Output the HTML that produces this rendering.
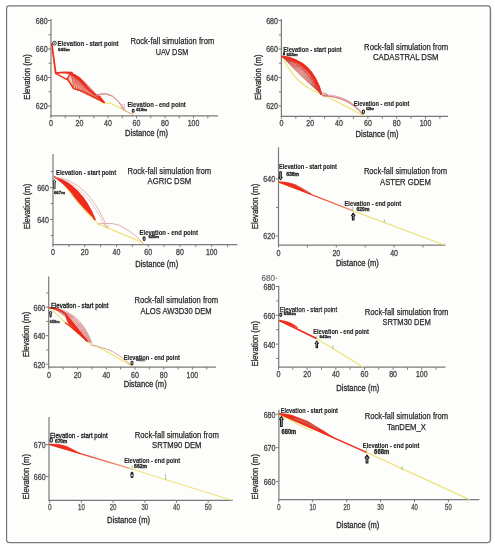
<!DOCTYPE html><html><head><meta charset="utf-8"><style>html,body{margin:0;padding:0;background:#fff;width:495px;height:550px;overflow:hidden}#w{position:absolute;left:0;top:0;width:495px;height:550px;will-change:transform;filter:blur(0.35px)}</style></head><body><div id="w"><svg width="495" height="550" viewBox="0 0 495 550" style="position:absolute;left:0;top:0" font-family='"Liberation Sans", sans-serif'>
<rect x="0" y="0" width="495" height="550" fill="#ffffff"/>
<rect x="6.6" y="5.9" width="483.7" height="536.6" rx="2.5" ry="2.5" fill="#fdfdfb" stroke="#747474" stroke-width="1.15"/>
<line x1="490.6" y1="9" x2="490.6" y2="540" stroke="#777" stroke-width="1.1"/>
<line x1="9" y1="542.7" x2="488" y2="542.7" stroke="#777" stroke-width="1.1"/>
<line x1="51.0" y1="19.0" x2="51.0" y2="116.4" stroke="#7a7a7a" stroke-width="1.2"/>
<line x1="50.4" y1="115.8" x2="218.0" y2="115.8" stroke="#7a7a7a" stroke-width="1.25"/>
<line x1="48.0" y1="20.5" x2="51.0" y2="20.5" stroke="#7a7a7a" stroke-width="1.0"/>
<text x="47.6" y="23.9" font-size="9.0" font-weight="normal" fill="#4a4a4a" text-anchor="end" textLength="11.8" lengthAdjust="spacingAndGlyphs" stroke="#4a4a4a" stroke-width="0.35" >680</text>
<line x1="48.5" y1="34.8" x2="51.0" y2="34.8" stroke="#7a7a7a" stroke-width="1.0"/>
<line x1="48.0" y1="49.0" x2="51.0" y2="49.0" stroke="#7a7a7a" stroke-width="1.0"/>
<text x="47.6" y="52.4" font-size="9.0" font-weight="normal" fill="#4a4a4a" text-anchor="end" textLength="11.8" lengthAdjust="spacingAndGlyphs" stroke="#4a4a4a" stroke-width="0.35" >660</text>
<line x1="48.5" y1="63.2" x2="51.0" y2="63.2" stroke="#7a7a7a" stroke-width="1.0"/>
<line x1="48.0" y1="77.5" x2="51.0" y2="77.5" stroke="#7a7a7a" stroke-width="1.0"/>
<text x="47.6" y="80.9" font-size="9.0" font-weight="normal" fill="#4a4a4a" text-anchor="end" textLength="11.8" lengthAdjust="spacingAndGlyphs" stroke="#4a4a4a" stroke-width="0.35" >640</text>
<line x1="48.5" y1="91.8" x2="51.0" y2="91.8" stroke="#7a7a7a" stroke-width="1.0"/>
<line x1="48.0" y1="106.0" x2="51.0" y2="106.0" stroke="#7a7a7a" stroke-width="1.0"/>
<text x="47.6" y="109.4" font-size="9.0" font-weight="normal" fill="#4a4a4a" text-anchor="end" textLength="11.8" lengthAdjust="spacingAndGlyphs" stroke="#4a4a4a" stroke-width="0.35" >620</text>
<line x1="51.0" y1="115.8" x2="51.0" y2="118.3" stroke="#7a7a7a" stroke-width="1.0"/>
<text x="51.0" y="126.0" font-size="9.0" font-weight="normal" fill="#4a4a4a" text-anchor="middle" textLength="4.0" lengthAdjust="spacingAndGlyphs" stroke="#4a4a4a" stroke-width="0.35" >0</text>
<line x1="65.2" y1="115.8" x2="65.2" y2="118.3" stroke="#7a7a7a" stroke-width="1.0"/>
<line x1="79.5" y1="115.8" x2="79.5" y2="118.3" stroke="#7a7a7a" stroke-width="1.0"/>
<text x="79.5" y="126.0" font-size="9.0" font-weight="normal" fill="#4a4a4a" text-anchor="middle" textLength="7.8" lengthAdjust="spacingAndGlyphs" stroke="#4a4a4a" stroke-width="0.35" >20</text>
<line x1="93.8" y1="115.8" x2="93.8" y2="118.3" stroke="#7a7a7a" stroke-width="1.0"/>
<line x1="108.0" y1="115.8" x2="108.0" y2="118.3" stroke="#7a7a7a" stroke-width="1.0"/>
<text x="108.0" y="126.0" font-size="9.0" font-weight="normal" fill="#4a4a4a" text-anchor="middle" textLength="7.8" lengthAdjust="spacingAndGlyphs" stroke="#4a4a4a" stroke-width="0.35" >40</text>
<line x1="122.2" y1="115.8" x2="122.2" y2="118.3" stroke="#7a7a7a" stroke-width="1.0"/>
<line x1="136.5" y1="115.8" x2="136.5" y2="118.3" stroke="#7a7a7a" stroke-width="1.0"/>
<text x="136.5" y="126.0" font-size="9.0" font-weight="normal" fill="#4a4a4a" text-anchor="middle" textLength="7.8" lengthAdjust="spacingAndGlyphs" stroke="#4a4a4a" stroke-width="0.35" >60</text>
<line x1="150.8" y1="115.8" x2="150.8" y2="118.3" stroke="#7a7a7a" stroke-width="1.0"/>
<line x1="165.0" y1="115.8" x2="165.0" y2="118.3" stroke="#7a7a7a" stroke-width="1.0"/>
<text x="165.0" y="126.0" font-size="9.0" font-weight="normal" fill="#4a4a4a" text-anchor="middle" textLength="7.8" lengthAdjust="spacingAndGlyphs" stroke="#4a4a4a" stroke-width="0.35" >80</text>
<line x1="179.2" y1="115.8" x2="179.2" y2="118.3" stroke="#7a7a7a" stroke-width="1.0"/>
<line x1="193.5" y1="115.8" x2="193.5" y2="118.3" stroke="#7a7a7a" stroke-width="1.0"/>
<text x="193.5" y="126.0" font-size="9.0" font-weight="normal" fill="#4a4a4a" text-anchor="middle" textLength="11.6" lengthAdjust="spacingAndGlyphs" stroke="#4a4a4a" stroke-width="0.35" >100</text>
<line x1="207.8" y1="115.8" x2="207.8" y2="118.3" stroke="#7a7a7a" stroke-width="1.0"/>
<text x="146.5" y="135.7" font-size="9" font-weight="normal" fill="#2a2a2a" text-anchor="middle" textLength="43.0" lengthAdjust="spacingAndGlyphs" stroke="#2a2a2a" stroke-width="0.3" >Distance (m)</text>
<text transform="translate(29.9,77.0) rotate(-90)" x="0" y="0" font-size="9" fill="#2a2a2a" stroke="#2a2a2a" stroke-width="0.3" text-anchor="middle" textLength="45.5" lengthAdjust="spacingAndGlyphs">Elevation (m)</text>
<text x="130.4" y="44.4" font-size="9.9" font-weight="normal" fill="#262626" text-anchor="start" textLength="83.9" lengthAdjust="spacingAndGlyphs" stroke="#262626" stroke-width="0.25" >Rock-fall simulation from</text>
<text x="155.7" y="55.0" font-size="9.9" font-weight="normal" fill="#262626" text-anchor="start" textLength="32.6" lengthAdjust="spacingAndGlyphs" stroke="#262626" stroke-width="0.25" >UAV DSM</text>
<line x1="281.4" y1="19.0" x2="281.4" y2="116.9" stroke="#7a7a7a" stroke-width="1.2"/>
<line x1="280.8" y1="116.3" x2="448.0" y2="116.3" stroke="#7a7a7a" stroke-width="1.25"/>
<line x1="278.4" y1="20.5" x2="281.4" y2="20.5" stroke="#7a7a7a" stroke-width="1.0"/>
<text x="278.0" y="23.9" font-size="9.0" font-weight="normal" fill="#4a4a4a" text-anchor="end" textLength="11.8" lengthAdjust="spacingAndGlyphs" stroke="#4a4a4a" stroke-width="0.35" >680</text>
<line x1="278.9" y1="34.8" x2="281.4" y2="34.8" stroke="#7a7a7a" stroke-width="1.0"/>
<line x1="278.4" y1="49.0" x2="281.4" y2="49.0" stroke="#7a7a7a" stroke-width="1.0"/>
<text x="278.0" y="52.4" font-size="9.0" font-weight="normal" fill="#4a4a4a" text-anchor="end" textLength="11.8" lengthAdjust="spacingAndGlyphs" stroke="#4a4a4a" stroke-width="0.35" >660</text>
<line x1="278.9" y1="63.2" x2="281.4" y2="63.2" stroke="#7a7a7a" stroke-width="1.0"/>
<line x1="278.4" y1="77.5" x2="281.4" y2="77.5" stroke="#7a7a7a" stroke-width="1.0"/>
<text x="278.0" y="80.9" font-size="9.0" font-weight="normal" fill="#4a4a4a" text-anchor="end" textLength="11.8" lengthAdjust="spacingAndGlyphs" stroke="#4a4a4a" stroke-width="0.35" >640</text>
<line x1="278.9" y1="91.8" x2="281.4" y2="91.8" stroke="#7a7a7a" stroke-width="1.0"/>
<line x1="278.4" y1="106.0" x2="281.4" y2="106.0" stroke="#7a7a7a" stroke-width="1.0"/>
<text x="278.0" y="109.4" font-size="9.0" font-weight="normal" fill="#4a4a4a" text-anchor="end" textLength="11.8" lengthAdjust="spacingAndGlyphs" stroke="#4a4a4a" stroke-width="0.35" >620</text>
<line x1="281.4" y1="116.3" x2="281.4" y2="118.8" stroke="#7a7a7a" stroke-width="1.0"/>
<text x="281.4" y="126.2" font-size="9.0" font-weight="normal" fill="#4a4a4a" text-anchor="middle" textLength="4.0" lengthAdjust="spacingAndGlyphs" stroke="#4a4a4a" stroke-width="0.35" >0</text>
<line x1="295.8" y1="116.3" x2="295.8" y2="118.8" stroke="#7a7a7a" stroke-width="1.0"/>
<line x1="310.2" y1="116.3" x2="310.2" y2="118.8" stroke="#7a7a7a" stroke-width="1.0"/>
<text x="310.2" y="126.2" font-size="9.0" font-weight="normal" fill="#4a4a4a" text-anchor="middle" textLength="7.8" lengthAdjust="spacingAndGlyphs" stroke="#4a4a4a" stroke-width="0.35" >20</text>
<line x1="324.6" y1="116.3" x2="324.6" y2="118.8" stroke="#7a7a7a" stroke-width="1.0"/>
<line x1="339.0" y1="116.3" x2="339.0" y2="118.8" stroke="#7a7a7a" stroke-width="1.0"/>
<text x="339.0" y="126.2" font-size="9.0" font-weight="normal" fill="#4a4a4a" text-anchor="middle" textLength="7.8" lengthAdjust="spacingAndGlyphs" stroke="#4a4a4a" stroke-width="0.35" >40</text>
<line x1="353.4" y1="116.3" x2="353.4" y2="118.8" stroke="#7a7a7a" stroke-width="1.0"/>
<line x1="367.9" y1="116.3" x2="367.9" y2="118.8" stroke="#7a7a7a" stroke-width="1.0"/>
<text x="367.9" y="126.2" font-size="9.0" font-weight="normal" fill="#4a4a4a" text-anchor="middle" textLength="7.8" lengthAdjust="spacingAndGlyphs" stroke="#4a4a4a" stroke-width="0.35" >60</text>
<line x1="382.3" y1="116.3" x2="382.3" y2="118.8" stroke="#7a7a7a" stroke-width="1.0"/>
<line x1="396.7" y1="116.3" x2="396.7" y2="118.8" stroke="#7a7a7a" stroke-width="1.0"/>
<text x="396.7" y="126.2" font-size="9.0" font-weight="normal" fill="#4a4a4a" text-anchor="middle" textLength="7.8" lengthAdjust="spacingAndGlyphs" stroke="#4a4a4a" stroke-width="0.35" >80</text>
<line x1="411.1" y1="116.3" x2="411.1" y2="118.8" stroke="#7a7a7a" stroke-width="1.0"/>
<line x1="425.5" y1="116.3" x2="425.5" y2="118.8" stroke="#7a7a7a" stroke-width="1.0"/>
<text x="425.5" y="126.2" font-size="9.0" font-weight="normal" fill="#4a4a4a" text-anchor="middle" textLength="11.6" lengthAdjust="spacingAndGlyphs" stroke="#4a4a4a" stroke-width="0.35" >100</text>
<line x1="439.9" y1="116.3" x2="439.9" y2="118.8" stroke="#7a7a7a" stroke-width="1.0"/>
<text x="377.0" y="137.0" font-size="9" font-weight="normal" fill="#2a2a2a" text-anchor="middle" textLength="43.0" lengthAdjust="spacingAndGlyphs" stroke="#2a2a2a" stroke-width="0.3" >Distance (m)</text>
<text transform="translate(261.3,77.2) rotate(-90)" x="0" y="0" font-size="9" fill="#2a2a2a" stroke="#2a2a2a" stroke-width="0.3" text-anchor="middle" textLength="45.5" lengthAdjust="spacingAndGlyphs">Elevation (m)</text>
<text x="364.1" y="49.8" font-size="9.9" font-weight="normal" fill="#262626" text-anchor="start" textLength="84.1" lengthAdjust="spacingAndGlyphs" stroke="#262626" stroke-width="0.25" >Rock-fall simulation from</text>
<text x="373.0" y="59.5" font-size="9.9" font-weight="normal" fill="#262626" text-anchor="start" textLength="65.5" lengthAdjust="spacingAndGlyphs" stroke="#262626" stroke-width="0.25" >CADASTRAL DSM</text>
<line x1="53.0" y1="154.0" x2="53.0" y2="245.2" stroke="#7a7a7a" stroke-width="1.2"/>
<line x1="52.4" y1="244.6" x2="237.3" y2="244.6" stroke="#7a7a7a" stroke-width="1.25"/>
<line x1="50.5" y1="171.6" x2="53.0" y2="171.6" stroke="#7a7a7a" stroke-width="1.0"/>
<line x1="50.0" y1="187.6" x2="53.0" y2="187.6" stroke="#7a7a7a" stroke-width="1.0"/>
<text x="49.0" y="191.0" font-size="9.0" font-weight="normal" fill="#4a4a4a" text-anchor="end" textLength="11.8" lengthAdjust="spacingAndGlyphs" stroke="#4a4a4a" stroke-width="0.35" >660</text>
<line x1="50.5" y1="203.6" x2="53.0" y2="203.6" stroke="#7a7a7a" stroke-width="1.0"/>
<line x1="50.0" y1="219.6" x2="53.0" y2="219.6" stroke="#7a7a7a" stroke-width="1.0"/>
<text x="49.0" y="223.0" font-size="9.0" font-weight="normal" fill="#4a4a4a" text-anchor="end" textLength="11.8" lengthAdjust="spacingAndGlyphs" stroke="#4a4a4a" stroke-width="0.35" >640</text>
<line x1="50.5" y1="235.6" x2="53.0" y2="235.6" stroke="#7a7a7a" stroke-width="1.0"/>
<line x1="53.0" y1="244.6" x2="53.0" y2="247.1" stroke="#7a7a7a" stroke-width="1.0"/>
<text x="53.0" y="254.8" font-size="9.0" font-weight="normal" fill="#4a4a4a" text-anchor="middle" textLength="4.0" lengthAdjust="spacingAndGlyphs" stroke="#4a4a4a" stroke-width="0.35" >0</text>
<line x1="68.9" y1="244.6" x2="68.9" y2="247.1" stroke="#7a7a7a" stroke-width="1.0"/>
<line x1="84.7" y1="244.6" x2="84.7" y2="247.1" stroke="#7a7a7a" stroke-width="1.0"/>
<text x="84.7" y="254.8" font-size="9.0" font-weight="normal" fill="#4a4a4a" text-anchor="middle" textLength="7.8" lengthAdjust="spacingAndGlyphs" stroke="#4a4a4a" stroke-width="0.35" >20</text>
<line x1="100.6" y1="244.6" x2="100.6" y2="247.1" stroke="#7a7a7a" stroke-width="1.0"/>
<line x1="116.5" y1="244.6" x2="116.5" y2="247.1" stroke="#7a7a7a" stroke-width="1.0"/>
<text x="116.5" y="254.8" font-size="9.0" font-weight="normal" fill="#4a4a4a" text-anchor="middle" textLength="7.8" lengthAdjust="spacingAndGlyphs" stroke="#4a4a4a" stroke-width="0.35" >40</text>
<line x1="132.3" y1="244.6" x2="132.3" y2="247.1" stroke="#7a7a7a" stroke-width="1.0"/>
<line x1="148.2" y1="244.6" x2="148.2" y2="247.1" stroke="#7a7a7a" stroke-width="1.0"/>
<text x="148.2" y="254.8" font-size="9.0" font-weight="normal" fill="#4a4a4a" text-anchor="middle" textLength="7.8" lengthAdjust="spacingAndGlyphs" stroke="#4a4a4a" stroke-width="0.35" >60</text>
<line x1="164.1" y1="244.6" x2="164.1" y2="247.1" stroke="#7a7a7a" stroke-width="1.0"/>
<line x1="180.0" y1="244.6" x2="180.0" y2="247.1" stroke="#7a7a7a" stroke-width="1.0"/>
<text x="180.0" y="254.8" font-size="9.0" font-weight="normal" fill="#4a4a4a" text-anchor="middle" textLength="7.8" lengthAdjust="spacingAndGlyphs" stroke="#4a4a4a" stroke-width="0.35" >80</text>
<line x1="195.8" y1="244.6" x2="195.8" y2="247.1" stroke="#7a7a7a" stroke-width="1.0"/>
<line x1="211.7" y1="244.6" x2="211.7" y2="247.1" stroke="#7a7a7a" stroke-width="1.0"/>
<text x="211.7" y="254.8" font-size="9.0" font-weight="normal" fill="#4a4a4a" text-anchor="middle" textLength="11.6" lengthAdjust="spacingAndGlyphs" stroke="#4a4a4a" stroke-width="0.35" >100</text>
<line x1="227.6" y1="244.6" x2="227.6" y2="247.1" stroke="#7a7a7a" stroke-width="1.0"/>
<text x="156.7" y="267.0" font-size="9" font-weight="normal" fill="#2a2a2a" text-anchor="middle" textLength="43.0" lengthAdjust="spacingAndGlyphs" stroke="#2a2a2a" stroke-width="0.3" >Distance (m)</text>
<text transform="translate(30.3,206.5) rotate(-90)" x="0" y="0" font-size="9" fill="#2a2a2a" stroke="#2a2a2a" stroke-width="0.3" text-anchor="middle" textLength="45.5" lengthAdjust="spacingAndGlyphs">Elevation (m)</text>
<text x="127.5" y="173.9" font-size="9.9" font-weight="normal" fill="#262626" text-anchor="start" textLength="83.7" lengthAdjust="spacingAndGlyphs" stroke="#262626" stroke-width="0.25" >Rock-fall simulation from</text>
<text x="147.6" y="183.8" font-size="9.9" font-weight="normal" fill="#262626" text-anchor="start" textLength="43.6" lengthAdjust="spacingAndGlyphs" stroke="#262626" stroke-width="0.25" >AGRIC DSM</text>
<line x1="278.5" y1="147.4" x2="278.5" y2="245.6" stroke="#7a7a7a" stroke-width="1.2"/>
<line x1="277.9" y1="245.0" x2="445.4" y2="245.0" stroke="#7a7a7a" stroke-width="1.25"/>
<line x1="275.5" y1="178.9" x2="278.5" y2="178.9" stroke="#7a7a7a" stroke-width="1.0"/>
<text x="275.1" y="182.3" font-size="9.0" font-weight="normal" fill="#4a4a4a" text-anchor="end" textLength="11.8" lengthAdjust="spacingAndGlyphs" stroke="#4a4a4a" stroke-width="0.35" >640</text>
<line x1="276.0" y1="207.4" x2="278.5" y2="207.4" stroke="#7a7a7a" stroke-width="1.0"/>
<line x1="275.5" y1="236.0" x2="278.5" y2="236.0" stroke="#7a7a7a" stroke-width="1.0"/>
<text x="275.1" y="239.4" font-size="9.0" font-weight="normal" fill="#4a4a4a" text-anchor="end" textLength="11.8" lengthAdjust="spacingAndGlyphs" stroke="#4a4a4a" stroke-width="0.35" >620</text>
<line x1="278.5" y1="245.0" x2="278.5" y2="247.5" stroke="#7a7a7a" stroke-width="1.0"/>
<text x="278.5" y="255.5" font-size="9.0" font-weight="normal" fill="#4a4a4a" text-anchor="middle" textLength="4.0" lengthAdjust="spacingAndGlyphs" stroke="#4a4a4a" stroke-width="0.35" >0</text>
<line x1="307.4" y1="245.0" x2="307.4" y2="247.5" stroke="#7a7a7a" stroke-width="1.0"/>
<line x1="336.3" y1="245.0" x2="336.3" y2="247.5" stroke="#7a7a7a" stroke-width="1.0"/>
<text x="336.3" y="255.5" font-size="9.0" font-weight="normal" fill="#4a4a4a" text-anchor="middle" textLength="7.8" lengthAdjust="spacingAndGlyphs" stroke="#4a4a4a" stroke-width="0.35" >20</text>
<line x1="365.2" y1="245.0" x2="365.2" y2="247.5" stroke="#7a7a7a" stroke-width="1.0"/>
<line x1="394.1" y1="245.0" x2="394.1" y2="247.5" stroke="#7a7a7a" stroke-width="1.0"/>
<text x="394.1" y="255.5" font-size="9.0" font-weight="normal" fill="#4a4a4a" text-anchor="middle" textLength="7.8" lengthAdjust="spacingAndGlyphs" stroke="#4a4a4a" stroke-width="0.35" >40</text>
<line x1="423.0" y1="245.0" x2="423.0" y2="247.5" stroke="#7a7a7a" stroke-width="1.0"/>
<text x="357.4" y="265.6" font-size="9" font-weight="normal" fill="#2a2a2a" text-anchor="middle" textLength="43.0" lengthAdjust="spacingAndGlyphs" stroke="#2a2a2a" stroke-width="0.3" >Distance (m)</text>
<text transform="translate(257.8,206.4) rotate(-90)" x="0" y="0" font-size="9" fill="#2a2a2a" stroke="#2a2a2a" stroke-width="0.3" text-anchor="middle" textLength="45.5" lengthAdjust="spacingAndGlyphs">Elevation (m)</text>
<text x="363.9" y="174.2" font-size="9.9" font-weight="normal" fill="#262626" text-anchor="start" textLength="83.1" lengthAdjust="spacingAndGlyphs" stroke="#262626" stroke-width="0.25" >Rock-fall simulation from</text>
<text x="380.1" y="184.8" font-size="9.9" font-weight="normal" fill="#262626" text-anchor="start" textLength="50.7" lengthAdjust="spacingAndGlyphs" stroke="#262626" stroke-width="0.25" >ASTER GDEM</text>
<line x1="48.7" y1="276.5" x2="48.7" y2="367.6" stroke="#7a7a7a" stroke-width="1.2"/>
<line x1="48.1" y1="367.0" x2="216.0" y2="367.0" stroke="#7a7a7a" stroke-width="1.25"/>
<line x1="46.2" y1="292.9" x2="48.7" y2="292.9" stroke="#7a7a7a" stroke-width="1.0"/>
<line x1="45.7" y1="307.2" x2="48.7" y2="307.2" stroke="#7a7a7a" stroke-width="1.0"/>
<text x="45.3" y="310.6" font-size="9.0" font-weight="normal" fill="#4a4a4a" text-anchor="end" textLength="11.8" lengthAdjust="spacingAndGlyphs" stroke="#4a4a4a" stroke-width="0.35" >660</text>
<line x1="46.2" y1="321.4" x2="48.7" y2="321.4" stroke="#7a7a7a" stroke-width="1.0"/>
<line x1="45.7" y1="335.7" x2="48.7" y2="335.7" stroke="#7a7a7a" stroke-width="1.0"/>
<text x="45.3" y="339.1" font-size="9.0" font-weight="normal" fill="#4a4a4a" text-anchor="end" textLength="11.8" lengthAdjust="spacingAndGlyphs" stroke="#4a4a4a" stroke-width="0.35" >640</text>
<line x1="46.2" y1="349.9" x2="48.7" y2="349.9" stroke="#7a7a7a" stroke-width="1.0"/>
<line x1="45.7" y1="364.2" x2="48.7" y2="364.2" stroke="#7a7a7a" stroke-width="1.0"/>
<text x="45.3" y="367.6" font-size="9.0" font-weight="normal" fill="#4a4a4a" text-anchor="end" textLength="11.8" lengthAdjust="spacingAndGlyphs" stroke="#4a4a4a" stroke-width="0.35" >620</text>
<line x1="48.9" y1="367.0" x2="48.9" y2="369.5" stroke="#7a7a7a" stroke-width="1.0"/>
<text x="48.9" y="377.8" font-size="9.0" font-weight="normal" fill="#4a4a4a" text-anchor="middle" textLength="4.0" lengthAdjust="spacingAndGlyphs" stroke="#4a4a4a" stroke-width="0.35" >0</text>
<line x1="63.2" y1="367.0" x2="63.2" y2="369.5" stroke="#7a7a7a" stroke-width="1.0"/>
<line x1="77.6" y1="367.0" x2="77.6" y2="369.5" stroke="#7a7a7a" stroke-width="1.0"/>
<text x="77.6" y="377.8" font-size="9.0" font-weight="normal" fill="#4a4a4a" text-anchor="middle" textLength="7.8" lengthAdjust="spacingAndGlyphs" stroke="#4a4a4a" stroke-width="0.35" >20</text>
<line x1="92.0" y1="367.0" x2="92.0" y2="369.5" stroke="#7a7a7a" stroke-width="1.0"/>
<line x1="106.3" y1="367.0" x2="106.3" y2="369.5" stroke="#7a7a7a" stroke-width="1.0"/>
<text x="106.3" y="377.8" font-size="9.0" font-weight="normal" fill="#4a4a4a" text-anchor="middle" textLength="7.8" lengthAdjust="spacingAndGlyphs" stroke="#4a4a4a" stroke-width="0.35" >40</text>
<line x1="120.7" y1="367.0" x2="120.7" y2="369.5" stroke="#7a7a7a" stroke-width="1.0"/>
<line x1="135.0" y1="367.0" x2="135.0" y2="369.5" stroke="#7a7a7a" stroke-width="1.0"/>
<text x="135.0" y="377.8" font-size="9.0" font-weight="normal" fill="#4a4a4a" text-anchor="middle" textLength="7.8" lengthAdjust="spacingAndGlyphs" stroke="#4a4a4a" stroke-width="0.35" >60</text>
<line x1="149.3" y1="367.0" x2="149.3" y2="369.5" stroke="#7a7a7a" stroke-width="1.0"/>
<line x1="163.7" y1="367.0" x2="163.7" y2="369.5" stroke="#7a7a7a" stroke-width="1.0"/>
<text x="163.7" y="377.8" font-size="9.0" font-weight="normal" fill="#4a4a4a" text-anchor="middle" textLength="7.8" lengthAdjust="spacingAndGlyphs" stroke="#4a4a4a" stroke-width="0.35" >80</text>
<line x1="178.1" y1="367.0" x2="178.1" y2="369.5" stroke="#7a7a7a" stroke-width="1.0"/>
<line x1="192.4" y1="367.0" x2="192.4" y2="369.5" stroke="#7a7a7a" stroke-width="1.0"/>
<text x="192.4" y="377.8" font-size="9.0" font-weight="normal" fill="#4a4a4a" text-anchor="middle" textLength="11.6" lengthAdjust="spacingAndGlyphs" stroke="#4a4a4a" stroke-width="0.35" >100</text>
<line x1="206.8" y1="367.0" x2="206.8" y2="369.5" stroke="#7a7a7a" stroke-width="1.0"/>
<text x="145.2" y="387.4" font-size="9" font-weight="normal" fill="#2a2a2a" text-anchor="middle" textLength="43.0" lengthAdjust="spacingAndGlyphs" stroke="#2a2a2a" stroke-width="0.3" >Distance (m)</text>
<text transform="translate(29.3,334.5) rotate(-90)" x="0" y="0" font-size="9" fill="#2a2a2a" stroke="#2a2a2a" stroke-width="0.3" text-anchor="middle" textLength="45.5" lengthAdjust="spacingAndGlyphs">Elevation (m)</text>
<text x="134.5" y="303.2" font-size="9.9" font-weight="normal" fill="#262626" text-anchor="start" textLength="83.7" lengthAdjust="spacingAndGlyphs" stroke="#262626" stroke-width="0.25" >Rock-fall simulation from</text>
<text x="140.4" y="313.7" font-size="9.9" font-weight="normal" fill="#262626" text-anchor="start" textLength="71.3" lengthAdjust="spacingAndGlyphs" stroke="#262626" stroke-width="0.25" >ALOS AW3D30 DEM</text>
<line x1="278.7" y1="285.7" x2="278.7" y2="367.8" stroke="#7a7a7a" stroke-width="1.2"/>
<line x1="278.1" y1="367.2" x2="445.5" y2="367.2" stroke="#7a7a7a" stroke-width="1.25"/>
<line x1="275.7" y1="286.5" x2="278.7" y2="286.5" stroke="#7a7a7a" stroke-width="1.0"/>
<text x="275.3" y="289.9" font-size="9.0" font-weight="normal" fill="#4a4a4a" text-anchor="end" textLength="11.8" lengthAdjust="spacingAndGlyphs" stroke="#4a4a4a" stroke-width="0.35" >680</text>
<line x1="276.2" y1="300.9" x2="278.7" y2="300.9" stroke="#7a7a7a" stroke-width="1.0"/>
<line x1="275.7" y1="315.3" x2="278.7" y2="315.3" stroke="#7a7a7a" stroke-width="1.0"/>
<text x="275.3" y="318.7" font-size="9.0" font-weight="normal" fill="#4a4a4a" text-anchor="end" textLength="11.8" lengthAdjust="spacingAndGlyphs" stroke="#4a4a4a" stroke-width="0.35" >660</text>
<line x1="276.2" y1="329.7" x2="278.7" y2="329.7" stroke="#7a7a7a" stroke-width="1.0"/>
<line x1="275.7" y1="344.1" x2="278.7" y2="344.1" stroke="#7a7a7a" stroke-width="1.0"/>
<text x="275.3" y="347.5" font-size="9.0" font-weight="normal" fill="#4a4a4a" text-anchor="end" textLength="11.8" lengthAdjust="spacingAndGlyphs" stroke="#4a4a4a" stroke-width="0.35" >640</text>
<line x1="276.2" y1="358.5" x2="278.7" y2="358.5" stroke="#7a7a7a" stroke-width="1.0"/>
<line x1="278.5" y1="367.2" x2="278.5" y2="369.7" stroke="#7a7a7a" stroke-width="1.0"/>
<text x="278.5" y="377.4" font-size="9.0" font-weight="normal" fill="#4a4a4a" text-anchor="middle" textLength="4.0" lengthAdjust="spacingAndGlyphs" stroke="#4a4a4a" stroke-width="0.35" >0</text>
<line x1="292.8" y1="367.2" x2="292.8" y2="369.7" stroke="#7a7a7a" stroke-width="1.0"/>
<line x1="307.2" y1="367.2" x2="307.2" y2="369.7" stroke="#7a7a7a" stroke-width="1.0"/>
<text x="307.2" y="377.4" font-size="9.0" font-weight="normal" fill="#4a4a4a" text-anchor="middle" textLength="7.8" lengthAdjust="spacingAndGlyphs" stroke="#4a4a4a" stroke-width="0.35" >20</text>
<line x1="321.5" y1="367.2" x2="321.5" y2="369.7" stroke="#7a7a7a" stroke-width="1.0"/>
<line x1="335.8" y1="367.2" x2="335.8" y2="369.7" stroke="#7a7a7a" stroke-width="1.0"/>
<text x="335.8" y="377.4" font-size="9.0" font-weight="normal" fill="#4a4a4a" text-anchor="middle" textLength="7.8" lengthAdjust="spacingAndGlyphs" stroke="#4a4a4a" stroke-width="0.35" >40</text>
<line x1="350.1" y1="367.2" x2="350.1" y2="369.7" stroke="#7a7a7a" stroke-width="1.0"/>
<line x1="364.5" y1="367.2" x2="364.5" y2="369.7" stroke="#7a7a7a" stroke-width="1.0"/>
<text x="364.5" y="377.4" font-size="9.0" font-weight="normal" fill="#4a4a4a" text-anchor="middle" textLength="7.8" lengthAdjust="spacingAndGlyphs" stroke="#4a4a4a" stroke-width="0.35" >60</text>
<line x1="378.8" y1="367.2" x2="378.8" y2="369.7" stroke="#7a7a7a" stroke-width="1.0"/>
<line x1="393.1" y1="367.2" x2="393.1" y2="369.7" stroke="#7a7a7a" stroke-width="1.0"/>
<text x="393.1" y="377.4" font-size="9.0" font-weight="normal" fill="#4a4a4a" text-anchor="middle" textLength="7.8" lengthAdjust="spacingAndGlyphs" stroke="#4a4a4a" stroke-width="0.35" >80</text>
<line x1="407.5" y1="367.2" x2="407.5" y2="369.7" stroke="#7a7a7a" stroke-width="1.0"/>
<line x1="421.8" y1="367.2" x2="421.8" y2="369.7" stroke="#7a7a7a" stroke-width="1.0"/>
<text x="421.8" y="377.4" font-size="9.0" font-weight="normal" fill="#4a4a4a" text-anchor="middle" textLength="11.6" lengthAdjust="spacingAndGlyphs" stroke="#4a4a4a" stroke-width="0.35" >100</text>
<line x1="436.1" y1="367.2" x2="436.1" y2="369.7" stroke="#7a7a7a" stroke-width="1.0"/>
<text x="357.8" y="390.6" font-size="9" font-weight="normal" fill="#2a2a2a" text-anchor="middle" textLength="43.0" lengthAdjust="spacingAndGlyphs" stroke="#2a2a2a" stroke-width="0.3" >Distance (m)</text>
<text transform="translate(258.3,343.8) rotate(-90)" x="0" y="0" font-size="9" fill="#2a2a2a" stroke="#2a2a2a" stroke-width="0.3" text-anchor="middle" textLength="45.5" lengthAdjust="spacingAndGlyphs">Elevation (m)</text>
<text x="364.8" y="315.4" font-size="9.9" font-weight="normal" fill="#262626" text-anchor="start" textLength="83.7" lengthAdjust="spacingAndGlyphs" stroke="#262626" stroke-width="0.25" >Rock-fall simulation from</text>
<text x="382.4" y="325.4" font-size="9.9" font-weight="normal" fill="#262626" text-anchor="start" textLength="48.5" lengthAdjust="spacingAndGlyphs" stroke="#262626" stroke-width="0.25" >SRTM30 DEM</text>
<line x1="49.0" y1="417.0" x2="49.0" y2="500.9" stroke="#7a7a7a" stroke-width="1.2"/>
<line x1="48.4" y1="500.3" x2="232.7" y2="500.3" stroke="#7a7a7a" stroke-width="1.25"/>
<line x1="46.0" y1="444.6" x2="49.0" y2="444.6" stroke="#7a7a7a" stroke-width="1.0"/>
<text x="45.6" y="448.0" font-size="9.0" font-weight="normal" fill="#4a4a4a" text-anchor="end" textLength="11.8" lengthAdjust="spacingAndGlyphs" stroke="#4a4a4a" stroke-width="0.35" >670</text>
<line x1="46.0" y1="476.5" x2="49.0" y2="476.5" stroke="#7a7a7a" stroke-width="1.0"/>
<text x="45.6" y="479.9" font-size="9.0" font-weight="normal" fill="#4a4a4a" text-anchor="end" textLength="11.8" lengthAdjust="spacingAndGlyphs" stroke="#4a4a4a" stroke-width="0.35" >660</text>
<line x1="49.7" y1="500.3" x2="49.7" y2="502.8" stroke="#7a7a7a" stroke-width="1.0"/>
<text x="49.7" y="509.9" font-size="8.4" font-weight="normal" fill="#555" text-anchor="middle" textLength="3.6" lengthAdjust="spacingAndGlyphs" stroke="#555" stroke-width="0.35" >0</text>
<line x1="81.4" y1="500.3" x2="81.4" y2="502.8" stroke="#7a7a7a" stroke-width="1.0"/>
<text x="81.4" y="509.9" font-size="8.4" font-weight="normal" fill="#555" text-anchor="middle" textLength="6.8" lengthAdjust="spacingAndGlyphs" stroke="#555" stroke-width="0.35" >10</text>
<line x1="113.1" y1="500.3" x2="113.1" y2="502.8" stroke="#7a7a7a" stroke-width="1.0"/>
<text x="113.1" y="509.9" font-size="8.4" font-weight="normal" fill="#555" text-anchor="middle" textLength="6.8" lengthAdjust="spacingAndGlyphs" stroke="#555" stroke-width="0.35" >20</text>
<line x1="144.8" y1="500.3" x2="144.8" y2="502.8" stroke="#7a7a7a" stroke-width="1.0"/>
<text x="144.8" y="509.9" font-size="8.4" font-weight="normal" fill="#555" text-anchor="middle" textLength="6.8" lengthAdjust="spacingAndGlyphs" stroke="#555" stroke-width="0.35" >30</text>
<line x1="176.5" y1="500.3" x2="176.5" y2="502.8" stroke="#7a7a7a" stroke-width="1.0"/>
<text x="176.5" y="509.9" font-size="8.4" font-weight="normal" fill="#555" text-anchor="middle" textLength="6.8" lengthAdjust="spacingAndGlyphs" stroke="#555" stroke-width="0.35" >40</text>
<line x1="208.2" y1="500.3" x2="208.2" y2="502.8" stroke="#7a7a7a" stroke-width="1.0"/>
<text x="208.2" y="509.9" font-size="8.4" font-weight="normal" fill="#555" text-anchor="middle" textLength="6.8" lengthAdjust="spacingAndGlyphs" stroke="#555" stroke-width="0.35" >50</text>
<text x="128.5" y="523.4" font-size="9" font-weight="normal" fill="#2a2a2a" text-anchor="middle" textLength="43.0" lengthAdjust="spacingAndGlyphs" stroke="#2a2a2a" stroke-width="0.3" >Distance (m)</text>
<text transform="translate(29.3,476.7) rotate(-90)" x="0" y="0" font-size="9" fill="#2a2a2a" stroke="#2a2a2a" stroke-width="0.3" text-anchor="middle" textLength="45.5" lengthAdjust="spacingAndGlyphs">Elevation (m)</text>
<text x="134.8" y="437.5" font-size="9.9" font-weight="normal" fill="#262626" text-anchor="start" textLength="84.0" lengthAdjust="spacingAndGlyphs" stroke="#262626" stroke-width="0.25" >Rock-fall simulation from</text>
<text x="152.1" y="447.5" font-size="9.9" font-weight="normal" fill="#262626" text-anchor="start" textLength="49.4" lengthAdjust="spacingAndGlyphs" stroke="#262626" stroke-width="0.25" >SRTM90 DEM</text>
<line x1="278.9" y1="409.7" x2="278.9" y2="500.2" stroke="#7a7a7a" stroke-width="1.2"/>
<line x1="278.3" y1="499.6" x2="479.4" y2="499.6" stroke="#7a7a7a" stroke-width="1.25"/>
<line x1="275.9" y1="414.2" x2="278.9" y2="414.2" stroke="#7a7a7a" stroke-width="1.0"/>
<text x="275.5" y="417.6" font-size="9.0" font-weight="normal" fill="#4a4a4a" text-anchor="end" textLength="11.8" lengthAdjust="spacingAndGlyphs" stroke="#4a4a4a" stroke-width="0.35" >680</text>
<line x1="275.9" y1="447.7" x2="278.9" y2="447.7" stroke="#7a7a7a" stroke-width="1.0"/>
<text x="275.5" y="451.1" font-size="9.0" font-weight="normal" fill="#4a4a4a" text-anchor="end" textLength="11.8" lengthAdjust="spacingAndGlyphs" stroke="#4a4a4a" stroke-width="0.35" >670</text>
<line x1="275.9" y1="481.4" x2="278.9" y2="481.4" stroke="#7a7a7a" stroke-width="1.0"/>
<text x="275.5" y="484.8" font-size="9.0" font-weight="normal" fill="#4a4a4a" text-anchor="end" textLength="11.8" lengthAdjust="spacingAndGlyphs" stroke="#4a4a4a" stroke-width="0.35" >660</text>
<line x1="278.8" y1="499.6" x2="278.8" y2="502.1" stroke="#7a7a7a" stroke-width="1.0"/>
<text x="278.8" y="509.5" font-size="8.4" font-weight="normal" fill="#555" text-anchor="middle" textLength="3.6" lengthAdjust="spacingAndGlyphs" stroke="#555" stroke-width="0.35" >0</text>
<line x1="312.7" y1="499.6" x2="312.7" y2="502.1" stroke="#7a7a7a" stroke-width="1.0"/>
<text x="312.7" y="509.5" font-size="8.4" font-weight="normal" fill="#555" text-anchor="middle" textLength="6.6" lengthAdjust="spacingAndGlyphs" stroke="#555" stroke-width="0.35" >10</text>
<line x1="346.7" y1="499.6" x2="346.7" y2="502.1" stroke="#7a7a7a" stroke-width="1.0"/>
<text x="346.7" y="509.5" font-size="8.4" font-weight="normal" fill="#555" text-anchor="middle" textLength="6.6" lengthAdjust="spacingAndGlyphs" stroke="#555" stroke-width="0.35" >20</text>
<line x1="380.6" y1="499.6" x2="380.6" y2="502.1" stroke="#7a7a7a" stroke-width="1.0"/>
<text x="380.6" y="509.5" font-size="8.4" font-weight="normal" fill="#555" text-anchor="middle" textLength="6.6" lengthAdjust="spacingAndGlyphs" stroke="#555" stroke-width="0.35" >30</text>
<line x1="414.5" y1="499.6" x2="414.5" y2="502.1" stroke="#7a7a7a" stroke-width="1.0"/>
<text x="414.5" y="509.5" font-size="8.4" font-weight="normal" fill="#555" text-anchor="middle" textLength="6.6" lengthAdjust="spacingAndGlyphs" stroke="#555" stroke-width="0.35" >40</text>
<line x1="448.4" y1="499.6" x2="448.4" y2="502.1" stroke="#7a7a7a" stroke-width="1.0"/>
<text x="448.4" y="509.5" font-size="8.4" font-weight="normal" fill="#555" text-anchor="middle" textLength="6.6" lengthAdjust="spacingAndGlyphs" stroke="#555" stroke-width="0.35" >50</text>
<text x="357.8" y="528.2" font-size="9" font-weight="normal" fill="#2a2a2a" text-anchor="middle" textLength="43.0" lengthAdjust="spacingAndGlyphs" stroke="#2a2a2a" stroke-width="0.3" >Distance (m)</text>
<text transform="translate(258.3,476.7) rotate(-90)" x="0" y="0" font-size="9" fill="#2a2a2a" stroke="#2a2a2a" stroke-width="0.3" text-anchor="middle" textLength="45.5" lengthAdjust="spacingAndGlyphs">Elevation (m)</text>
<text x="364.8" y="418.5" font-size="9.9" font-weight="normal" fill="#262626" text-anchor="start" textLength="83.4" lengthAdjust="spacingAndGlyphs" stroke="#262626" stroke-width="0.25" >Rock-fall simulation from</text>
<text x="387.0" y="430.0" font-size="9.9" font-weight="normal" fill="#262626" text-anchor="start" textLength="38.8" lengthAdjust="spacingAndGlyphs" stroke="#262626" stroke-width="0.25" >TanDEM_X</text>
<path d="M51.6,44.0 L55.0,72.5 L68.2,80.2 L73.0,85.6 L77.9,89.3 L86.4,92.9 L94.8,96.5 L103.3,103.2 L110.0,103.0 L124.0,110.0 L132.8,114.5" stroke="#ebe370" stroke-width="1.15" fill="none" opacity="1.0" stroke-linejoin="round" stroke-linecap="round" />
<path d="M51.8,44 L55.8,73.5" stroke="#ee2b1c" stroke-width="1.7" fill="none" opacity="1.0" stroke-linejoin="round" stroke-linecap="round" />
<path d="M55.8,73.5 L67,79.6 L70,73.5" stroke="#ee2b1c" stroke-width="1.4" fill="none" opacity="1.0" stroke-linejoin="round" stroke-linecap="round" />
<path d="M55.8,73.2 Q62,71.8 72,72.6" stroke="#ee2b1c" stroke-width="1.8" fill="none" opacity="1.0" stroke-linejoin="round" stroke-linecap="round" />
<path d="M70,73 Q80,76 85,85 L90.5,91 Q95,95 99.5,96.5 L104,102.2 L97.2,98.8 L89.3,94.8 L81.4,90.9 L73.5,88.6 L67.8,79.6 Z" stroke="#e86a5a" stroke-width="0.1" fill="#ee5040" opacity="0.35" stroke-linejoin="round" stroke-linecap="round" />
<path d="M69.5,73.2 Q73.5,77.2 73.5,88.6" stroke="#e03020" stroke-width="0.8" fill="none" opacity="0.9" stroke-linejoin="round" stroke-linecap="round" />
<path d="M70.2,73.6 Q74.6,77.6 75.8,89.7" stroke="#c84a40" stroke-width="0.8" fill="none" opacity="0.9" stroke-linejoin="round" stroke-linecap="round" />
<path d="M71.0,74.0 Q75.7,78.0 78.2,90.8" stroke="#e03020" stroke-width="0.8" fill="none" opacity="0.9" stroke-linejoin="round" stroke-linecap="round" />
<path d="M71.8,74.3 Q76.8,78.3 80.5,91.8" stroke="#c84a40" stroke-width="0.8" fill="none" opacity="0.9" stroke-linejoin="round" stroke-linecap="round" />
<path d="M72.5,74.7 Q77.8,78.7 82.8,92.9" stroke="#e03020" stroke-width="0.8" fill="none" opacity="0.9" stroke-linejoin="round" stroke-linecap="round" />
<path d="M73.2,75.1 Q78.9,79.1 85.2,94.0" stroke="#c84a40" stroke-width="0.8" fill="none" opacity="0.9" stroke-linejoin="round" stroke-linecap="round" />
<path d="M74.0,75.5 Q80.0,79.5 87.5,95.1" stroke="#e03020" stroke-width="0.8" fill="none" opacity="0.9" stroke-linejoin="round" stroke-linecap="round" />
<path d="M74.8,75.8 Q81.1,79.8 89.8,96.2" stroke="#c84a40" stroke-width="0.8" fill="none" opacity="0.9" stroke-linejoin="round" stroke-linecap="round" />
<path d="M75.5,76.2 Q82.2,80.2 92.2,97.3" stroke="#e03020" stroke-width="0.8" fill="none" opacity="0.9" stroke-linejoin="round" stroke-linecap="round" />
<path d="M76.2,76.6 Q83.2,80.6 94.5,98.3" stroke="#c84a40" stroke-width="0.8" fill="none" opacity="0.9" stroke-linejoin="round" stroke-linecap="round" />
<path d="M77.0,77.0 Q84.3,81.0 96.8,99.4" stroke="#e03020" stroke-width="0.8" fill="none" opacity="0.9" stroke-linejoin="round" stroke-linecap="round" />
<path d="M77.8,77.3 Q85.4,81.3 99.2,100.5" stroke="#c84a40" stroke-width="0.8" fill="none" opacity="0.9" stroke-linejoin="round" stroke-linecap="round" />
<path d="M78.5,77.7 Q86.5,81.7 101.5,101.6" stroke="#e03020" stroke-width="0.8" fill="none" opacity="0.9" stroke-linejoin="round" stroke-linecap="round" />
<path d="M62.0,72.6 C76.0,72.0 80.0,84.0 90.0,91.0 S100.0,98.0 104,102.5" stroke="#e03a2a" stroke-width="0.8" fill="none" opacity="0.85" stroke-linejoin="round" stroke-linecap="round" />
<path d="M63.5,72.6 C76.5,72.5 80.8,84.8 91.0,91.8 S100.0,98.0 104,102.5" stroke="#e03a2a" stroke-width="0.8" fill="none" opacity="0.85" stroke-linejoin="round" stroke-linecap="round" />
<path d="M65.0,72.6 C77.0,73.0 81.5,85.5 92.0,92.5 S100.0,98.0 104,102.5" stroke="#e03a2a" stroke-width="0.8" fill="none" opacity="0.85" stroke-linejoin="round" stroke-linecap="round" />
<path d="M66.5,72.6 C77.5,73.5 82.2,86.2 93.0,93.2 S100.0,98.0 104,102.5" stroke="#e03a2a" stroke-width="0.8" fill="none" opacity="0.85" stroke-linejoin="round" stroke-linecap="round" />
<path d="M68.0,72.6 C78.0,74.0 83.0,87.0 94.0,94.0 S100.0,98.0 104,102.5" stroke="#e03a2a" stroke-width="0.8" fill="none" opacity="0.85" stroke-linejoin="round" stroke-linecap="round" />
<path d="M70,73 Q80,76 85,85 L90.5,91 Q95,95 99.5,96.5 L104,102.2" stroke="#ee2b1c" stroke-width="1.7" fill="none" opacity="1.0" stroke-linejoin="round" stroke-linecap="round" />
<path d="M72,75 Q81,79 86,87 L91,92 Q96,96 104,102.2" stroke="#ee2b1c" stroke-width="1.0" fill="none" opacity="1.0" stroke-linejoin="round" stroke-linecap="round" />
<path d="M67.8,79.6 L73.5,88.6 L81.4,90.9 L89.3,94.8 L97.2,98.8 L104,102.5" stroke="#ee2b1c" stroke-width="1.4" fill="none" opacity="1.0" stroke-linejoin="round" stroke-linecap="round" />
<path d="M95,95.5 Q100,93.5 106,94 Q113,95 118,101 Q121,105 124,110" stroke="#c05050" stroke-width="1.0" fill="none" opacity="0.85" stroke-linejoin="round" stroke-linecap="round" />
<path d="M96,95.5 Q104,91.5 111,95 Q119,100 125,110" stroke="#dba3a3" stroke-width="0.8" fill="none" opacity="0.8" stroke-linejoin="round" stroke-linecap="round" />
<path d="M97,96 Q106,92.5 113,96.5 Q120,102 126,111" stroke="#dba3a3" stroke-width="0.6" fill="none" opacity="0.7" stroke-linejoin="round" stroke-linecap="round" />
<path d="M121,108 Q122,103 124.5,104.5 Q126,107 123,110 Q128,112 132.5,114.2" stroke="#dba3a3" stroke-width="0.8" fill="none" opacity="1.0" stroke-linejoin="round" stroke-linecap="round" />
<ellipse cx="133.2" cy="110.8" rx="1.0" ry="1.6" fill="#fff" stroke="#1a1a1a" stroke-width="1.1"/>
<circle cx="54.4" cy="43.2" r="1.9" fill="none" stroke="#222" stroke-width="0.9"/>
<circle cx="54.4" cy="43.2" r="0.6" fill="#222"/>
<text x="57.6" y="45.9" font-size="7.2" font-weight="bold" fill="#222" text-anchor="start" textLength="61.0" lengthAdjust="spacingAndGlyphs" stroke="#222" stroke-width="0.12" >Elevation - start point</text>
<text x="58.1" y="51.1" font-size="4.2" font-weight="bold" fill="#222" text-anchor="start" textLength="11.7" lengthAdjust="spacingAndGlyphs" stroke="#222" stroke-width="0.3" >665m</text>
<text x="127.4" y="106.6" font-size="7.2" font-weight="bold" fill="#222" text-anchor="start" textLength="58.4" lengthAdjust="spacingAndGlyphs" stroke="#222" stroke-width="0.12" >Elevation - end point</text>
<text x="136.2" y="110.8" font-size="4.2" font-weight="bold" fill="#222" text-anchor="start" textLength="11.0" lengthAdjust="spacingAndGlyphs" stroke="#222" stroke-width="0.3" >619m</text>
<path d="M282.6,56.7 Q294,84 321,94 L336.6,101.6 L362.8,115.2" stroke="#ebe370" stroke-width="1.15" fill="none" opacity="1.0" stroke-linejoin="round" stroke-linecap="round" />
<path d="M282.6,56.7 Q312.2,60.9 321,93.8" stroke="#d03a30" stroke-width="0.8" fill="none" opacity="0.85" stroke-linejoin="round" stroke-linecap="round" />
<path d="M282.6,56.7 Q310.8,61.8 321,93.8" stroke="#b84040" stroke-width="0.8" fill="none" opacity="0.85" stroke-linejoin="round" stroke-linecap="round" />
<path d="M282.6,56.7 Q309.5,62.8 321,93.8" stroke="#d03a30" stroke-width="0.8" fill="none" opacity="0.85" stroke-linejoin="round" stroke-linecap="round" />
<path d="M282.6,56.7 Q308.1,63.7 321,93.8" stroke="#b84040" stroke-width="0.8" fill="none" opacity="0.85" stroke-linejoin="round" stroke-linecap="round" />
<path d="M282.6,56.7 Q306.8,64.6 321,93.8" stroke="#d03a30" stroke-width="0.8" fill="none" opacity="0.85" stroke-linejoin="round" stroke-linecap="round" />
<path d="M282.6,56.7 Q305.4,65.5 321,93.8" stroke="#b84040" stroke-width="0.8" fill="none" opacity="0.85" stroke-linejoin="round" stroke-linecap="round" />
<path d="M282.6,56.7 Q304.1,66.5 321,93.8" stroke="#d03a30" stroke-width="0.8" fill="none" opacity="0.85" stroke-linejoin="round" stroke-linecap="round" />
<path d="M282.6,56.7 Q302.8,67.4 321,93.8" stroke="#b84040" stroke-width="0.8" fill="none" opacity="0.85" stroke-linejoin="round" stroke-linecap="round" />
<path d="M282.6,56.7 Q301.4,68.3 321,93.8" stroke="#d03a30" stroke-width="0.8" fill="none" opacity="0.85" stroke-linejoin="round" stroke-linecap="round" />
<path d="M282.6,56.7 Q300.1,69.2 321,93.8" stroke="#b84040" stroke-width="0.8" fill="none" opacity="0.85" stroke-linejoin="round" stroke-linecap="round" />
<path d="M282.6,56.7 Q298.7,70.2 321,93.8" stroke="#d03a30" stroke-width="0.8" fill="none" opacity="0.85" stroke-linejoin="round" stroke-linecap="round" />
<path d="M282.6,56.7 Q297.3,71.1 321,93.8" stroke="#b84040" stroke-width="0.8" fill="none" opacity="0.85" stroke-linejoin="round" stroke-linecap="round" />
<path d="M282.6,56.7 Q296.0,72.0 321,93.8" stroke="#d03a30" stroke-width="0.8" fill="none" opacity="0.85" stroke-linejoin="round" stroke-linecap="round" />
<path d="M282.6,56.7 Q312.2,60.9 321,93.8" stroke="#ee2b1c" stroke-width="2.4" fill="none" opacity="1.0" stroke-linejoin="round" stroke-linecap="round" />
<path d="M282.6,56.7 Q309.5,62.5 321,93.8" stroke="#ee2b1c" stroke-width="1.4" fill="none" opacity="1.0" stroke-linejoin="round" stroke-linecap="round" />
<path d="M282.6,56.7 Q306,64.5 321,93.8" stroke="#e04030" stroke-width="1.0" fill="none" opacity="1.0" stroke-linejoin="round" stroke-linecap="round" />
<path d="M322.8,95.6 C338,96 352,101 362.8,114.4" stroke="#d06060" stroke-width="1.1" fill="none" opacity="0.85" stroke-linejoin="round" stroke-linecap="round" />
<path d="M323,94.6 C339,95 353,100 362.8,114.4" stroke="#dba3a3" stroke-width="0.9" fill="none" opacity="1.0" stroke-linejoin="round" stroke-linecap="round" />
<path d="M321.1,94 Q324,91.5 327.5,94.8 Q325,97.5 322.5,95.5" stroke="#d06060" stroke-width="0.8" fill="none" opacity="1.0" stroke-linejoin="round" stroke-linecap="round" />
<ellipse cx="284.0" cy="53.8" rx="1.1" ry="1.7" fill="#1a1a1a"/>
<ellipse cx="363.4" cy="111.8" rx="1.1" ry="1.7" fill="#fff" stroke="#1a1a1a" stroke-width="1.1"/>
<text x="283.3" y="52.4" font-size="6.8" font-weight="bold" fill="#222" text-anchor="start" textLength="58.3" lengthAdjust="spacingAndGlyphs" stroke="#222" stroke-width="0.12" >Elevation - start point</text>
<text x="286.5" y="56.4" font-size="4.2" font-weight="bold" fill="#222" text-anchor="start" textLength="11.3" lengthAdjust="spacingAndGlyphs" stroke="#222" stroke-width="0.3" >655m</text>
<text x="353.8" y="105.6" font-size="6.8" font-weight="bold" fill="#222" text-anchor="start" textLength="55.6" lengthAdjust="spacingAndGlyphs" stroke="#222" stroke-width="0.12" >Elevation - end point</text>
<text x="366.2" y="109.9" font-size="4.2" font-weight="bold" fill="#222" text-anchor="start" textLength="7.8" lengthAdjust="spacingAndGlyphs" stroke="#222" stroke-width="0.3" >626m</text>
<path d="M54.8,177.1 L62.1,182.3 L68.2,190.2 L76.1,200.5 L86.4,212.0 L98.3,224.1 L112.0,229.8 L141.1,241.9 L143.0,243.2" stroke="#ebe370" stroke-width="1.15" fill="none" opacity="1.0" stroke-linejoin="round" stroke-linecap="round" />
<path d="M54.8,177.1 Q71.0,189.0 94.8,219.3" stroke="#e06060" stroke-width="0.9" fill="none" opacity="0.9" stroke-linejoin="round" stroke-linecap="round" />
<path d="M54.8,177.1 Q71.9,188.7 94.8,219.3" stroke="#c84040" stroke-width="0.9" fill="none" opacity="0.9" stroke-linejoin="round" stroke-linecap="round" />
<path d="M54.8,177.1 Q72.8,188.4 94.8,219.3" stroke="#e06060" stroke-width="0.9" fill="none" opacity="0.9" stroke-linejoin="round" stroke-linecap="round" />
<path d="M54.8,177.1 Q73.7,188.1 94.8,219.3" stroke="#c84040" stroke-width="0.9" fill="none" opacity="0.9" stroke-linejoin="round" stroke-linecap="round" />
<path d="M54.8,177.1 Q74.6,187.8 94.8,219.3" stroke="#e06060" stroke-width="0.9" fill="none" opacity="0.9" stroke-linejoin="round" stroke-linecap="round" />
<path d="M54.8,177.1 Q75.5,187.5 94.8,219.3" stroke="#c84040" stroke-width="0.9" fill="none" opacity="0.9" stroke-linejoin="round" stroke-linecap="round" />
<path d="M54.8,177.1 Q76.4,187.2 94.8,219.3" stroke="#e06060" stroke-width="0.9" fill="none" opacity="0.9" stroke-linejoin="round" stroke-linecap="round" />
<path d="M54.8,177.1 Q77.3,186.9 94.8,219.3" stroke="#c84040" stroke-width="0.9" fill="none" opacity="0.9" stroke-linejoin="round" stroke-linecap="round" />
<path d="M54.8,177.1 Q78.2,186.6 94.8,219.3" stroke="#e06060" stroke-width="0.9" fill="none" opacity="0.9" stroke-linejoin="round" stroke-linecap="round" />
<path d="M54.8,177.1 Q79.1,186.3 94.8,219.3" stroke="#c84040" stroke-width="0.9" fill="none" opacity="0.9" stroke-linejoin="round" stroke-linecap="round" />
<path d="M54.8,177.1 Q80.0,186.0 94.8,219.3" stroke="#e06060" stroke-width="0.9" fill="none" opacity="0.9" stroke-linejoin="round" stroke-linecap="round" />
<path d="M54.8,177.1 Q81.2,185.8 94.8,219.3 Q78,203 70,191 Q62,181 54.8,177.1 Z" stroke="#ee2b1c" stroke-width="0.5" fill="#ee2b1c" opacity="1.0" stroke-linejoin="round" stroke-linecap="round" />
<path d="M54.8,177.1 Q81.2,185.8 94.8,219.3" stroke="#ee2b1c" stroke-width="1.6" fill="none" opacity="1.0" stroke-linejoin="round" stroke-linecap="round" />
<path d="M54.8,177.1 Q88,180 107.2,227.4" stroke="#dba3a3" stroke-width="0.8" fill="none" opacity="1.0" stroke-linejoin="round" stroke-linecap="round" />
<path d="M54.8,177.1 Q84,183 104,224" stroke="#dba3a3" stroke-width="0.7" fill="none" opacity="0.8" stroke-linejoin="round" stroke-linecap="round" />
<path d="M98.3,224.1 Q101,222.5 106,223.5 Q113,223 118.5,225 Q130,230 137.9,237.9 L143,243" stroke="#dba3a3" stroke-width="0.9" fill="none" opacity="1.0" stroke-linejoin="round" stroke-linecap="round" />
<path d="M104,224 L107.2,228.2 L109,225" stroke="#dba3a3" stroke-width="0.7" fill="none" opacity="1.0" stroke-linejoin="round" stroke-linecap="round" />
<path d="M54.40,179.80 L52.90,182.05 L53.73,182.05 L53.73,188.70 L55.07,188.70 L55.07,182.05 L55.90,182.05 Z" fill="#fff" stroke="#1a1a1a" stroke-width="0.9" stroke-linejoin="round"/>
<text x="56.0" y="174.9" font-size="7.0" font-weight="bold" fill="#222" text-anchor="start" textLength="60.1" lengthAdjust="spacingAndGlyphs" stroke="#222" stroke-width="0.12" >Elevation - start point</text>
<text x="53.9" y="194.2" font-size="4.2" font-weight="bold" fill="#222" text-anchor="start" textLength="11.3" lengthAdjust="spacingAndGlyphs" stroke="#222" stroke-width="0.3" >667m</text>
<text x="139.6" y="234.7" font-size="6.8" font-weight="bold" fill="#222" text-anchor="start" textLength="58.3" lengthAdjust="spacingAndGlyphs" stroke="#222" stroke-width="0.12" >Elevation - end point</text>
<text x="148.4" y="238.3" font-size="4.0" font-weight="bold" fill="#222" text-anchor="start" textLength="10.6" lengthAdjust="spacingAndGlyphs" stroke="#222" stroke-width="0.3" >626m</text>
<ellipse cx="144.1" cy="238.7" rx="1.0" ry="1.8" fill="#fff" stroke="#1a1a1a" stroke-width="1.1"/>
<path d="M353.2,210.9 L443,244.5" stroke="#ece37c" stroke-width="1.3" fill="none" opacity="1.0" stroke-linejoin="round" stroke-linecap="round" />
<path d="M279,182.8 L298,189.2" stroke="#ebe370" stroke-width="1.1" fill="none" opacity="1.0" stroke-linejoin="round" stroke-linecap="round" />
<path d="M279,181.8 Q290,181.6 298.6,186.4 Q306,191 312,194.8 L279,182.3 Z" stroke="#ee2b1c" stroke-width="0.5" fill="#ee2b1c" opacity="1.0" stroke-linejoin="round" stroke-linecap="round" />
<path d="M292,184 Q302,187.5 311,193.5" stroke="#c05a48" stroke-width="1.0" fill="none" opacity="0.7" stroke-linejoin="round" stroke-linecap="round" />
<path d="M279,182 L353.2,210.9" stroke="url(#g4)" stroke-width="1.25" fill="none"/>
<line x1="352.8" y1="206.5" x2="352.8" y2="210.5" stroke="#8fbf8f" stroke-width="0.8"/>
<line x1="384.3" y1="219.0" x2="384.3" y2="223.0" stroke="#8fbf8f" stroke-width="0.8"/>
<path d="M280.50,179.80 L278.80,177.25 L279.74,177.25 L279.74,171.70 L281.26,171.70 L281.26,177.25 L282.20,177.25 Z" fill="#fff" stroke="#1a1a1a" stroke-width="1.1" stroke-linejoin="round"/>
<path d="M353.20,213.20 L351.50,215.75 L352.44,215.75 L352.44,220.00 L353.96,220.00 L353.96,215.75 L354.90,215.75 Z" fill="#fff" stroke="#1a1a1a" stroke-width="1.2" stroke-linejoin="round"/>
<text x="278.9" y="169.4" font-size="6.8" font-weight="bold" fill="#222" text-anchor="start" textLength="58.1" lengthAdjust="spacingAndGlyphs" stroke="#222" stroke-width="0.12" >Elevation - start point</text>
<text x="286.2" y="176.1" font-size="5.2" font-weight="bold" fill="#222" text-anchor="start" textLength="12.9" lengthAdjust="spacingAndGlyphs" stroke="#222" stroke-width="0.3" >638m</text>
<text x="344.5" y="205.7" font-size="6.8" font-weight="bold" fill="#222" text-anchor="start" textLength="56.6" lengthAdjust="spacingAndGlyphs" stroke="#222" stroke-width="0.12" >Elevation - end point</text>
<text x="356.5" y="210.6" font-size="5.2" font-weight="bold" fill="#222" text-anchor="start" textLength="12.9" lengthAdjust="spacingAndGlyphs" stroke="#222" stroke-width="0.3" >629m</text>
<path d="M50.1,307.9 L65.5,322.9 L70.3,326.8 L86.8,341.0 L91.7,345.3 L95.9,346.7 L98.5,347.1 L131.9,366.0" stroke="#ebe370" stroke-width="1.15" fill="none" opacity="1.0" stroke-linejoin="round" stroke-linecap="round" />
<path d="M50.1,307.9 Q62.0,309.0 86.8,340.9" stroke="#c85050" stroke-width="0.8" fill="none" opacity="0.85" stroke-linejoin="round" stroke-linecap="round" />
<path d="M50.1,307.9 Q64.0,309.2 87.4,341.1" stroke="#e0a0a0" stroke-width="0.8" fill="none" opacity="0.85" stroke-linejoin="round" stroke-linecap="round" />
<path d="M50.1,307.9 Q66.0,309.4 88.0,341.4" stroke="#c85050" stroke-width="0.8" fill="none" opacity="0.85" stroke-linejoin="round" stroke-linecap="round" />
<path d="M50.1,307.9 Q68.0,309.6 88.7,341.6" stroke="#e0a0a0" stroke-width="0.8" fill="none" opacity="0.85" stroke-linejoin="round" stroke-linecap="round" />
<path d="M50.1,307.9 Q70.0,309.8 89.3,341.9" stroke="#c85050" stroke-width="0.8" fill="none" opacity="0.85" stroke-linejoin="round" stroke-linecap="round" />
<path d="M50.1,307.9 Q72.0,309.9 89.9,342.1" stroke="#e0a0a0" stroke-width="0.8" fill="none" opacity="0.85" stroke-linejoin="round" stroke-linecap="round" />
<path d="M50.1,307.9 Q74.0,310.1 90.5,342.4" stroke="#c85050" stroke-width="0.8" fill="none" opacity="0.85" stroke-linejoin="round" stroke-linecap="round" />
<path d="M50.1,307.9 Q76.0,310.3 91.2,342.6" stroke="#e0a0a0" stroke-width="0.8" fill="none" opacity="0.85" stroke-linejoin="round" stroke-linecap="round" />
<path d="M50.1,307.9 Q78.0,310.5 91.8,342.9" stroke="#c85050" stroke-width="0.8" fill="none" opacity="0.85" stroke-linejoin="round" stroke-linecap="round" />
<path d="M50.1,307.9 Q80,309 91.7,342.8" stroke="#dba3a3" stroke-width="0.9" fill="none" opacity="1.0" stroke-linejoin="round" stroke-linecap="round" />
<path d="M66,315 Q71,321.5 86.8,340.9 Q76,331 68.5,323.5 Q65.5,319 66,315 Z" stroke="#ee2b1c" stroke-width="0.5" fill="#ee2b1c" opacity="1.0" stroke-linejoin="round" stroke-linecap="round" />
<path d="M66,316 Q68,322 70.3,326.3 L86.8,340.9" stroke="#d04a40" stroke-width="0.9" fill="none" opacity="0.8" stroke-linejoin="round" stroke-linecap="round" />
<path d="M50.1,307.9 Q60,308.2 66.4,315.2 Q72,322 86.8,340.9" stroke="#ee2b1c" stroke-width="1.8" fill="none" opacity="1.0" stroke-linejoin="round" stroke-linecap="round" />
<path d="M65.5,322.9 L70.3,326.3 L86.8,340.9" stroke="#ee2b1c" stroke-width="1.2" fill="none" opacity="1.0" stroke-linejoin="round" stroke-linecap="round" />
<path d="M91.5,345 Q97,345 100.5,347.5 Q112,349 125.8,360.7 L131.9,365.7" stroke="#dba3a3" stroke-width="1.0" fill="none" opacity="1.0" stroke-linejoin="round" stroke-linecap="round" />
<path d="M50.60,310.90 L49.30,312.85 L50.02,312.85 L50.02,316.90 L51.18,316.90 L51.18,312.85 L51.90,312.85 Z" fill="#fff" stroke="#1a1a1a" stroke-width="1.0" stroke-linejoin="round"/>
<text x="50.9" y="307.6" font-size="6.9" font-weight="normal" fill="#222" text-anchor="start" textLength="57.6" lengthAdjust="spacingAndGlyphs" stroke="#222" stroke-width="0.3" >Elevation - start point</text>
<text x="49.8" y="323.2" font-size="3.6" font-weight="bold" fill="#333" text-anchor="start" textLength="9.9" lengthAdjust="spacingAndGlyphs" stroke="#333" stroke-width="0.3" >658m</text>
<text x="123.8" y="359.5" font-size="6.8" font-weight="bold" fill="#222" text-anchor="start" textLength="56.0" lengthAdjust="spacingAndGlyphs" stroke="#222" stroke-width="0.12" >Elevation - end point</text>
<text x="135.9" y="361.3" font-size="4.0" font-weight="bold" fill="#555" text-anchor="start" textLength="9.5" lengthAdjust="spacingAndGlyphs" stroke="#555" stroke-width="0.3" >642m</text>
<ellipse cx="132.0" cy="363.1" rx="1.0" ry="1.8" fill="#fff" stroke="#1a1a1a" stroke-width="1.1"/>
<path d="M316,338.2 L363,367" stroke="#ece37c" stroke-width="1.3" fill="none" opacity="1.0" stroke-linejoin="round" stroke-linecap="round" />
<path d="M280,320.5 Q290,321 297.6,327.6 Q290,325 280,321 Z" stroke="#ee2b1c" stroke-width="0.8" fill="#ee2b1c" opacity="1.0" stroke-linejoin="round" stroke-linecap="round" />
<path d="M280,320.8 L316,338.2" stroke="#ee2b1c" stroke-width="1.8" fill="none" opacity="1.0" stroke-linejoin="round" stroke-linecap="round" />
<line x1="316.8" y1="335.0" x2="316.8" y2="339.0" stroke="#8fbf8f" stroke-width="0.8"/>
<line x1="333.0" y1="345.0" x2="333.0" y2="349.0" stroke="#8fbf8f" stroke-width="0.8"/>
<ellipse cx="280.8" cy="314.8" rx="1.0" ry="1.6" fill="#fff" stroke="#1a1a1a" stroke-width="1.1"/>
<path d="M316.80,341.00 L315.15,343.48 L316.07,343.48 L316.07,347.60 L317.53,347.60 L317.53,343.48 L318.45,343.48 Z" fill="#fff" stroke="#1a1a1a" stroke-width="1.1" stroke-linejoin="round"/>
<text x="279.8" y="311.6" font-size="7.5" font-weight="normal" fill="#222" text-anchor="start" textLength="57.4" lengthAdjust="spacingAndGlyphs" stroke="#222" stroke-width="0.25" >Elevation - start point</text>
<text x="283.8" y="314.8" font-size="3.8" font-weight="bold" fill="#222" text-anchor="start" textLength="12.2" lengthAdjust="spacingAndGlyphs" stroke="#222" stroke-width="0.3" >656m</text>
<text x="313.2" y="334.0" font-size="6.4" font-weight="bold" fill="#222" text-anchor="start" textLength="55.6" lengthAdjust="spacingAndGlyphs" stroke="#222" stroke-width="0.12" >Elevation - end point</text>
<text x="319.6" y="337.6" font-size="4.2" font-weight="bold" fill="#222" text-anchor="start" textLength="11.4" lengthAdjust="spacingAndGlyphs" stroke="#222" stroke-width="0.3" >643m</text>
<text x="275.0" y="281.2" font-size="9.0" font-weight="normal" fill="#666" text-anchor="end" textLength="13.4" lengthAdjust="spacingAndGlyphs" stroke="#666" stroke-width="0.2" >680</text>
<line x1="275.6" y1="278.1" x2="277.0" y2="278.1" stroke="#7a7a7a" stroke-width="1.0"/>
<path d="M130,468.5 L231,500" stroke="#ece37c" stroke-width="1.3" fill="none" opacity="1.0" stroke-linejoin="round" stroke-linecap="round" />
<path d="M49.4,444.1 Q60,443.6 67,446.6 Q73,449.6 80,453.4 L49.4,444.6 Z" stroke="#ee2b1c" stroke-width="0.6" fill="#ee2b1c" opacity="1.0" stroke-linejoin="round" stroke-linecap="round" />
<defs><linearGradient id="g7" x1="49.4" y1="0" x2="129.8" y2="0" gradientUnits="userSpaceOnUse"><stop offset="0" stop-color="#ee2b1c"/><stop offset="0.4" stop-color="#ef3d25"/><stop offset="1" stop-color="#eea080"/></linearGradient><linearGradient id="g4" x1="279" y1="0" x2="353" y2="0" gradientUnits="userSpaceOnUse"><stop offset="0" stop-color="#ee2b1c"/><stop offset="0.45" stop-color="#ee3a22"/><stop offset="1" stop-color="#ef8c6c"/></linearGradient></defs>
<path d="M49.4,444.4 L129.8,468.4" stroke="url(#g7)" stroke-width="1.3" fill="none"/>
<line x1="132.0" y1="465.0" x2="132.0" y2="470.0" stroke="#8fbf8f" stroke-width="0.8"/>
<line x1="165.5" y1="474.0" x2="165.5" y2="480.0" stroke="#8fbf8f" stroke-width="0.8"/>
<ellipse cx="51.2" cy="440.2" rx="1.2" ry="1.9" fill="#fff" stroke="#1a1a1a" stroke-width="1.1"/>
<ellipse cx="132" cy="475" rx="1.6" ry="3.2" fill="#222"/><ellipse cx="132" cy="475.4" rx="0.7" ry="1.1" fill="#fff"/>
<text x="50.0" y="437.6" font-size="7.0" font-weight="normal" fill="#222" text-anchor="start" textLength="57.6" lengthAdjust="spacingAndGlyphs" stroke="#222" stroke-width="0.3" >Elevation - start point</text>
<text x="55.1" y="442.5" font-size="4.6" font-weight="bold" fill="#222" text-anchor="start" textLength="12.1" lengthAdjust="spacingAndGlyphs" stroke="#222" stroke-width="0.3" >670m</text>
<text x="124.2" y="463.3" font-size="6.8" font-weight="bold" fill="#222" text-anchor="start" textLength="55.9" lengthAdjust="spacingAndGlyphs" stroke="#222" stroke-width="0.12" >Elevation - end point</text>
<text x="134.1" y="467.8" font-size="4.6" font-weight="bold" fill="#222" text-anchor="start" textLength="12.8" lengthAdjust="spacingAndGlyphs" stroke="#222" stroke-width="0.3" >662m</text>
<path d="M279.6,414.6 L300,425.2 L312,430.8" stroke="#ebe370" stroke-width="1.2" fill="none" opacity="1.0" stroke-linejoin="round" stroke-linecap="round" />
<path d="M366,452.1 L469,499.3" stroke="#ece37c" stroke-width="1.3" fill="none" opacity="1.0" stroke-linejoin="round" stroke-linecap="round" />
<path d="M279.6,413.5 Q290,413.6 297.8,417.5 L307.5,421.2 Q318,427.5 324.5,431.5 L334,437.8 L279.6,414.1 Z" stroke="#ee2b1c" stroke-width="0.5" fill="#ee2b1c" opacity="1.0" stroke-linejoin="round" stroke-linecap="round" />
<path d="M294,418.6 Q306,421.5 318,429" stroke="#b87060" stroke-width="1.8" fill="none" opacity="0.75" stroke-linejoin="round" stroke-linecap="round" />
<path d="M279.6,413.7 L365.9,452.1" stroke="#ee2b1c" stroke-width="1.5" fill="none" opacity="1.0" stroke-linejoin="round" stroke-linecap="round" />
<line x1="366.5" y1="448.0" x2="366.5" y2="452.0" stroke="#8fbf8f" stroke-width="0.8"/>
<line x1="402.0" y1="466.0" x2="402.0" y2="470.0" stroke="#8fbf8f" stroke-width="0.8"/>
<path d="M281.40,416.60 L279.60,419.30 L280.60,419.30 L280.60,426.50 L282.20,426.50 L282.20,419.30 L283.20,419.30 Z" fill="#fff" stroke="#1a1a1a" stroke-width="1.15" stroke-linejoin="round"/>
<path d="M367.00,455.00 L365.10,457.85 L366.16,457.85 L366.16,463.00 L367.84,463.00 L367.84,457.85 L368.90,457.85 Z" fill="#fff" stroke="#1a1a1a" stroke-width="1.2" stroke-linejoin="round"/>
<text x="280.7" y="412.9" font-size="6.9" font-weight="bold" fill="#222" text-anchor="start" textLength="57.3" lengthAdjust="spacingAndGlyphs" stroke="#222" stroke-width="0.12" >Elevation - start point</text>
<text x="281.5" y="433.9" font-size="6.5" font-weight="bold" fill="#222" text-anchor="start" textLength="14.7" lengthAdjust="spacingAndGlyphs" stroke="#222" stroke-width="0.3" >680m</text>
<text x="362.8" y="447.6" font-size="6.8" font-weight="bold" fill="#222" text-anchor="start" textLength="56.6" lengthAdjust="spacingAndGlyphs" stroke="#222" stroke-width="0.12" >Elevation - end point</text>
<text x="374.1" y="454.3" font-size="6.6" font-weight="bold" fill="#222" text-anchor="start" textLength="15.1" lengthAdjust="spacingAndGlyphs" stroke="#222" stroke-width="0.3" >668m</text>
</svg></div></body></html>
